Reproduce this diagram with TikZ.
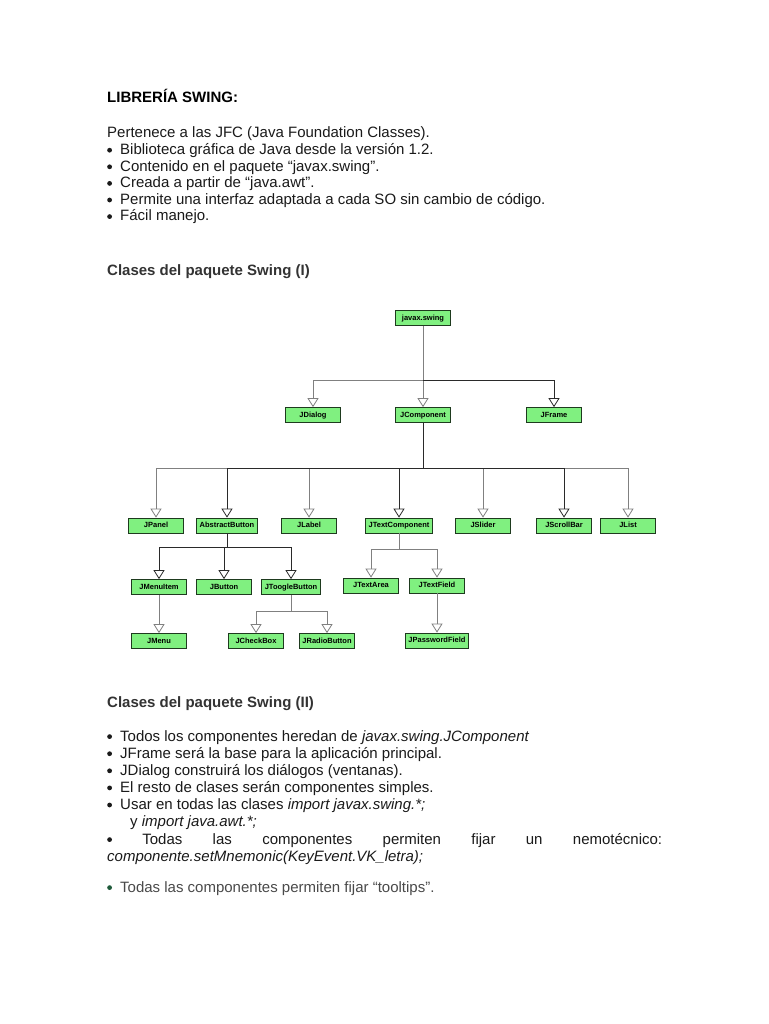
\documentclass[tikz,border=0pt]{standalone}
\usepackage{fontspec}
\setmainfont{Liberation Sans}
\usepackage{xcolor}
\usepackage{tikz}
\usetikzlibrary{arrows.meta}
\definecolor{boxgreen}{HTML}{80F080}
\definecolor{boxedge}{HTML}{1E3A1E}
\definecolor{wire}{HTML}{808080}
\definecolor{wiredark}{HTML}{2A2A2A}
\definecolor{ink}{HTML}{1A1A1A}
\definecolor{headgray}{HTML}{333333}
\definecolor{softgray}{HTML}{4A4A4A}
\definecolor{dotgreen}{HTML}{1F5A3A}
\newcommand{\dotmark}{\raisebox{2pt}{\tikz\fill (0,0) circle[radius=2.4pt];}}
\newcommand{\bul}{\makebox[13pt][l]{\dotmark}}

\begin{document}
\begin{tikzpicture}[
  x=1pt,y=-1pt,font=\fontsize{15}{17}\selectfont,
  txt/.style={anchor=base west,inner sep=0pt,text=ink},
  head/.style={txt,font=\bfseries\fontsize{15}{17}\selectfont},
  cls/.style={draw=boxedge,fill=boxgreen,line width=.7pt,minimum width=55pt,
    minimum height=15pt,inner xsep=3pt,inner ysep=0pt,text height=5.6pt,text depth=1.6pt,
    font=\bfseries\fontsize{7.5}{9}\selectfont},
  link/.style={draw=wire,line width=.8pt},
  dark/.style={draw=wiredark},
  inh/.style={link,-{Triangle[open,length=9pt,width=11pt]}}
]
\fill[white] (0,0) rectangle (768,1024);
\useasboundingbox (0,0) rectangle (768,1024);

% text above the tree
\node[head,text=black] (title) at (107,103) {LIBRERÍA SWING:};
\node[txt] (p0) at (107,138.0) {Pertenece a las JFC (Java Foundation Classes).};
\node[txt] (p1) at (107,154.6) {\bul Biblioteca gráfica de Java desde la versión 1.2.};
\node[txt] (p2) at (107,171.2) {\bul Contenido en el paquete “javax.swing”.};
\node[txt] (p3) at (107,187.8) {\bul Creada a partir de “java.awt”.};
\node[txt] (p4) at (107,204.4) {\bul Permite una interfaz adaptada a cada SO sin cambio de código.};
\node[txt] (p5) at (107,221.0) {\bul Fácil manejo.};
\node[head,text=headgray] (sec1) at (107,275) {Clases del paquete Swing (I)};

% class tree
\node[cls] (jswing)   at (423,318) {javax.swing};
\node[cls] (jdialog)  at (313,415) {JDialog};
\node[cls] (jcomp)    at (423,415) {JComponent};
\node[cls] (jframe)   at (554,415) {JFrame};
\node[cls] (jpanel)   at (156,525.5) {JPanel};
\node[cls] (absbtn)   at (227,525.5) {AbstractButton};
\node[cls] (jlabel)   at (309,525.5) {JLabel};
\node[cls] (jtxtcomp) at (399,525.5) {JTextComponent};
\node[cls] (jslider)  at (483,525.5) {JSlider};
\node[cls] (jscroll)  at (564,525.5) {JScrollBar};
\node[cls] (jlist)    at (628,525.5) {JList};
\node[cls] (jmenuitem) at (159,587) {JMenuItem};
\node[cls] (jbutton)  at (224,587) {JButton};
\node[cls] (jtoggle)  at (291,587) {JToogleButton};
\node[cls] (jtxtarea) at (371,585.5) {JTextArea};
\node[cls] (jtxtfield) at (437,585.5) {JTextField};
\node[cls] (jmenu)    at (159,641) {JMenu};
\node[cls] (jcheck)   at (256,641) {JCheckBox};
\node[cls] (jradio)   at (327,641) {JRadioButton};
\node[cls] (jpass)    at (437,640.5) {JPasswordField};

\coordinate (bus1) at (423,380);
\coordinate (bus2) at (423,468);
\coordinate (bus3) at (227,547);
\coordinate (bus4) at (399,549);
\coordinate (bus5) at (291,611);

\draw[link] (jswing) -- (bus1);
\foreach \c in {jdialog,jcomp} \draw[inh] (bus1) -| (\c);
\draw[inh,dark] (bus1) -| (jframe);
\draw[link,dark] (jcomp) -- (bus2);
\foreach \c in {jpanel,jlabel,jslider,jlist} \draw[inh] (bus2) -| (\c);
\foreach \c in {absbtn,jtxtcomp,jscroll} \draw[inh,dark] (bus2) -| (\c);
\draw[link,dark] (absbtn) -- (bus3);
\foreach \c in {jmenuitem,jbutton,jtoggle} \draw[inh,dark] (bus3) -| (\c);
\draw[link] (jtxtcomp) -- (bus4);
\foreach \c in {jtxtarea,jtxtfield} \draw[inh] (bus4) -| (\c);
\draw[link] (jtoggle) -- (bus5);
\foreach \c in {jcheck,jradio} \draw[inh] (bus5) -| (\c);
\draw[inh] (jmenuitem) -- (jmenu);
\draw[inh] (jtxtfield) -- (jpass);

% text below the tree
\node[head,text=headgray] (sec2) at (107,707) {Clases del paquete Swing (II)};
\node[txt] (q1) at (107,741.0) {\bul Todos los componentes heredan de \textit{javax.swing.JComponent}};
\node[txt] (q2) at (107,758.1) {\bul JFrame será la base para la aplicación principal.};
\node[txt] (q3) at (107,775.2) {\bul JDialog construirá los diálogos (ventanas).};
\node[txt] (q4) at (107,792.3) {\bul El resto de clases serán componentes simples.};
\node[txt] (q5) at (107,809.4) {\bul Usar en todas las clases \textit{import javax.swing.*;}};
\node[txt] (q6) at (130,826.5) {y \textit{import java.awt.*;}};
\node[txt] (q7) at (107,844.0) {\hbox to 555pt{\dotmark\hfill Todas\hfill las\hfill componentes\hfill
  permiten\hfill fijar\hfill un\hfill nemotécnico:}};
\node[txt] (q8) at (107,861.0) {\textit{componente.setMnemonic(KeyEvent.VK\_letra);}};
\node[txt,text=softgray] (q9) at (107,892) {\textcolor{dotgreen}{\bul}Todas las componentes permiten fijar “tooltips”.};
\end{tikzpicture}
\end{document}
